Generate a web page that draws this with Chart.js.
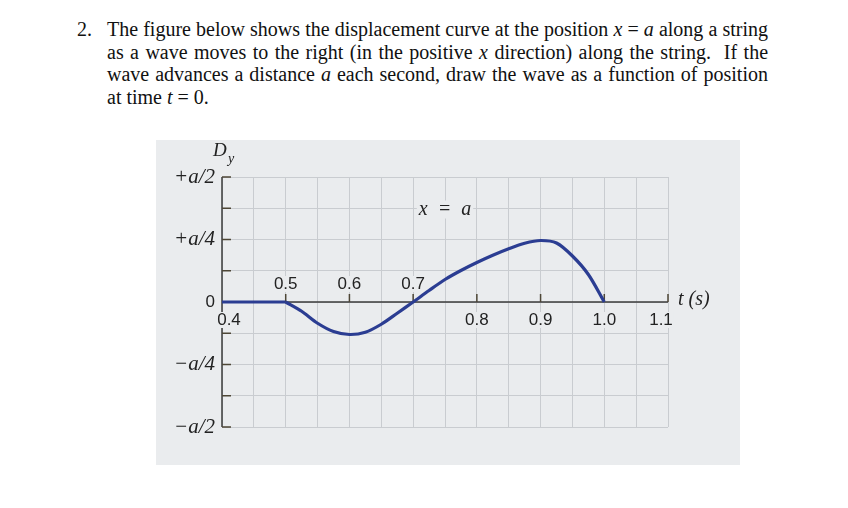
<!DOCTYPE html>
<html>
<head>
<meta charset="utf-8">
<script src="https://cdn.jsdelivr.net/npm/chart.js@4"></script>
<style>
  body { margin: 0; background: #fff; width: 848px; height: 508px; position: relative; overflow: hidden; }
  .q { position: absolute; font-family: "Liberation Serif", serif; font-size: 20px; line-height: 22px; color: #111; white-space: nowrap; }
  .line { left: 107px; width: 661px; text-align: justify; text-align-last: justify; }
  .last { text-align-last: left; }
  #fig { position: absolute; left: 156px; top: 140px; width: 584px; height: 325px; background: #eaecee; }
</style>
</head>
<body>
<div class="q" style="left:77px; top:18px;">2.</div>
<div class="q line" style="top:18px;">The figure below shows the displacement curve at the position <i>x</i> = <i>a</i> along a string</div>
<div class="q line" style="top:40.5px;">as a wave moves to the right (in the positive <i>x</i> direction) along the string.&nbsp; If the</div>
<div class="q line" style="top:62.5px;">wave advances a distance <i>a</i> each second, draw the wave as a function of position</div>
<div class="q line last" style="top:85.5px;">at time <i>t</i> = 0.</div>

<div id="fig"><canvas id="chart" width="584" height="325"></canvas></div>

<script>
// time (s) and displacement D_y (in units of a)
const times = [0.4, 0.45, 0.5, 0.525, 0.55, 0.575, 0.6, 0.625, 0.65, 0.675, 0.7,
  0.725, 0.75, 0.775, 0.8, 0.825, 0.85, 0.875, 0.9, 0.925, 0.95, 0.975, 1.0];
const displacement = [0, 0, 0, -0.037, -0.085, -0.118, -0.13, -0.121, -0.089, -0.045, 0,
  0.046, 0.09, 0.126, 0.158, 0.187, 0.213, 0.235, 0.246, 0.236, 0.184, 0.11, 0];
const pulseStart = 0.5; // the pulse leaves the axis here with a kink

// axis ticks and labels
const tTicks = [0.4, 0.5, 0.6, 0.7, 0.8, 0.9, 1.0, 1.1];
const tLabels = ['0.4', '0.5', '0.6', '0.7', '0.8', '0.9', '1.0', '1.1'];
const dTicks = [0.5, 0.375, 0.25, 0.125, 0, -0.125, -0.25, -0.375, -0.5];
const dLabels = ['+a/2', '', '+a/4', '', '0', '', '\u2212a/4', '', '\u2212a/2'];

const axisColor = '#3b3b3b';
const textColor = '#222';
const paperColor = '#eaecee';
const curveColor = '#2b3d92';

const points = times.map((t, i) => ({ x: t, y: displacement[i] }));
const flatPart = points.filter(p => p.x <= pulseStart);
const pulsePart = points.filter(p => p.x >= pulseStart);

// draws the axis lines, tick marks and the free labels
const axesPlugin = {
  id: 'axesMarks',
  beforeDatasetsDraw(chart) {
    const { ctx, scales: { x, y } } = chart;
    const x0 = x.getPixelForValue(0.4);
    const y0 = y.getPixelForValue(0);
    ctx.save();
    ctx.strokeStyle = axisColor;
    ctx.lineWidth = 1.5;
    ctx.beginPath();
    ctx.moveTo(x0, y.getPixelForValue(0.5));
    ctx.lineTo(x0, y.getPixelForValue(-0.5));
    ctx.moveTo(x0, y0);
    ctx.lineTo(x.getPixelForValue(1.1), y0);
    ctx.stroke();

    // ticks on the D axis point inwards
    ctx.strokeStyle = '#4d4636';
    ctx.beginPath();
    dTicks.forEach(v => {
      if (v === 0) return;
      const py = y.getPixelForValue(v);
      ctx.moveTo(x0, py);
      ctx.lineTo(x0 + 9, py);
    });
    // ticks on the t axis point up
    tTicks.forEach(v => {
      if (v === 0.4) return;
      const px = x.getPixelForValue(v);
      ctx.moveTo(px, y0);
      ctx.lineTo(px, y0 - 8);
    });
    ctx.stroke();

    // t labels, on a paper coloured patch so grid lines stop behind them
    ctx.textBaseline = 'middle';
    ctx.textAlign = 'center';
    ctx.font = '17px "Liberation Sans", Arial, sans-serif';
    tTicks.forEach((v, i) => {
      let px = x.getPixelForValue(v);
      if (v === 0.4) px += 7;
      if (v === 1.1) px -= 7;
      // labels sit above the axis where the curve dips below it
      const above = v > 0.45 && v < 0.75;
      const py = above ? y0 - 18 : y0 + 18;
      const w = ctx.measureText(tLabels[i]).width;
      ctx.fillStyle = paperColor;
      ctx.fillRect(px - w / 2 - 1, py - 8, w + 2, 16);
      ctx.fillStyle = textColor;
      ctx.fillText(tLabels[i], px, py);
    });
    ctx.restore();
  },
  afterDraw(chart) {
    const { ctx, scales: { x, y } } = chart;
    const y0 = y.getPixelForValue(0);
    const x0 = x.getPixelForValue(0.4);
    ctx.save();
    ctx.fillStyle = textColor;
    ctx.textBaseline = 'middle';
    ctx.textAlign = 'left';
    ctx.font = 'italic 20px "Liberation Serif", serif';
    ctx.fillText('t (s)', x.right + 10, y0 - 2);

    ctx.font = 'italic 19px "Liberation Serif", serif';
    ctx.fillText('D', x0 - 9, y.top - 26);
    ctx.font = 'italic 14px "Liberation Serif", serif';
    ctx.fillText('y', x0 + 6, y.top - 18);

    ctx.textAlign = 'center';
    ctx.font = 'italic 20px "Liberation Serif", serif';
    const label = 'x  =  a';
    const lx = x.getPixelForValue(0.75);
    const ly = y.getPixelForValue(0.37);
    const w = ctx.measureText(label).width;
    ctx.fillStyle = paperColor;
    ctx.fillRect(lx - w / 2 - 2, ly - 9, w + 4, 18);
    ctx.fillStyle = textColor;
    ctx.fillText(label, lx, ly);
    ctx.restore();
  }
};

const ctx = document.getElementById('chart').getContext('2d');
new Chart(ctx, {
  type: 'line',
  data: {
    datasets: [
      {
        data: flatPart,
        borderColor: curveColor,
        borderWidth: 3,
        pointRadius: 0,
        fill: false,
      },
      {
        data: pulsePart,
        borderColor: curveColor,
        borderWidth: 3.2,
        pointRadius: 0,
        fill: false,
        tension: 0.3,
      },
    ],
  },
  options: {
    responsive: false,
    animation: false,
    layout: { padding: { left: 0, top: 37, right: 72, bottom: 38 } },
    plugins: { legend: { display: false }, tooltip: { enabled: false } },
    scales: {
      x: {
        type: 'linear',
        min: 0.4,
        max: 1.1,
        ticks: { display: false, stepSize: 0.05 },
        grid: { color: '#c9ccd0', lineWidth: 1, drawTicks: false },
        border: { display: false },
        afterFit: scale => { scale.height = 0; },
      },
      y: {
        min: -0.5,
        max: 0.5,
        afterBuildTicks: scale => { scale.ticks = dTicks.map(v => ({ value: v })); },
        ticks: {
          padding: 7,
          color: textColor,
          callback: value => dLabels[dTicks.indexOf(value)],
          font: c => (c.tick && c.tick.value === 0)
            ? { family: '"Liberation Sans", Arial, sans-serif', size: 17 }
            : { family: '"Liberation Serif", serif', size: 21, style: 'italic' },
        },
        grid: { color: '#c9ccd0', lineWidth: 1, drawTicks: false },
        border: { display: false },
        afterFit: scale => { scale.width = 66; },
      },
    },
  },
  plugins: [axesPlugin],
});
</script>
</body>
</html>
